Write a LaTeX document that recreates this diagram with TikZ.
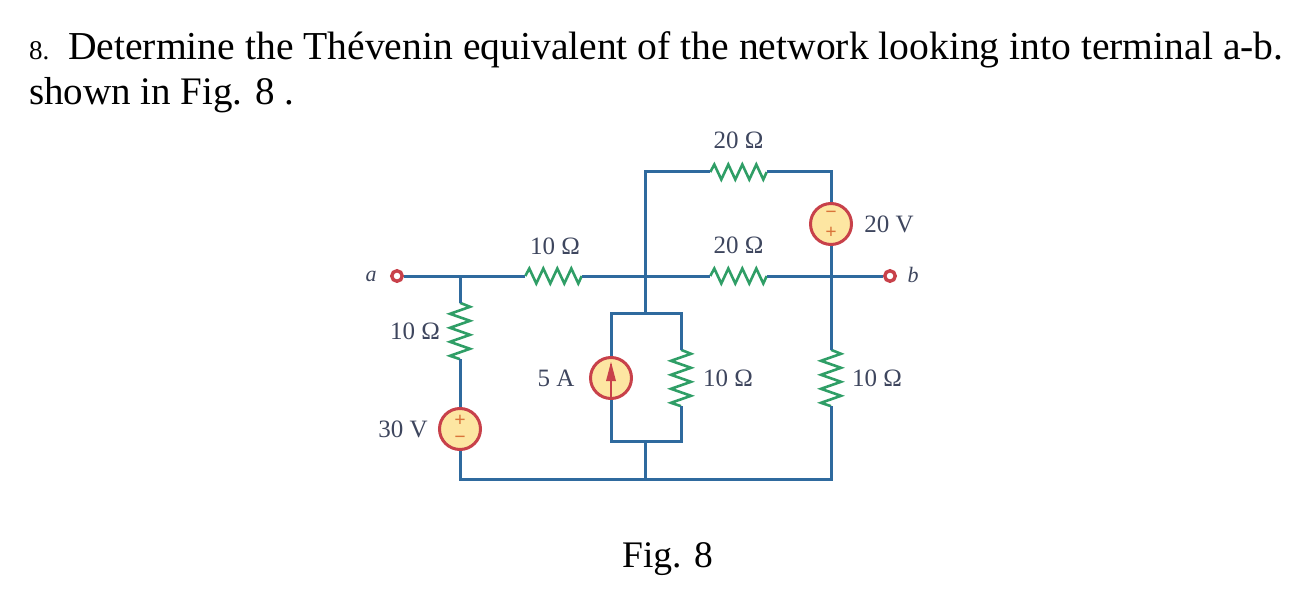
\documentclass[tikz,border=0pt]{standalone}
\usepackage{fontspec}
\usetikzlibrary{calc}
\setmainfont{Liberation Serif}
\definecolor{wirec}{HTML}{2F6A9E}
\definecolor{resc}{HTML}{2F9E66}
\definecolor{srcfill}{HTML}{FDE6A2}
\definecolor{srcring}{HTML}{C8414A}
\definecolor{labc}{HTML}{3E465E}
\definecolor{markc}{HTML}{D9743A}
\tikzset{
  wire/.style={draw=wirec,line width=3pt,line join=miter},
  zig/.style={draw=resc,line width=2.6pt,line join=miter},
  resbox/.style={inner sep=0pt,minimum width=56pt,minimum height=16pt},
  resboxv/.style={inner sep=0pt,minimum width=16pt,minimum height=56pt},
  source/.style={circle,draw=srcring,fill=srcfill,line width=3pt,minimum size=41pt,inner sep=0pt},
  terminal/.style={circle,draw=srcring,fill=white,line width=3.4pt,minimum size=10.5pt,inner sep=0pt},
  lab/.style={text=labc,inner sep=0pt,font=\fontsize{25}{27}\selectfont},
  titletext/.style={text=black,inner sep=0pt,anchor=base west},
  signmark/.style={text=markc,inner sep=0pt,anchor=base,font=\fontsize{20}{20}\selectfont\bfseries}
}
\newcommand{\HRes}[2]{%
  \node[resbox] (#1) at (#2) {};
  \draw[zig] (#1.west) -- ++(4,-7.5) -- ++(7,15) -- ++(7,-15) -- ++(7,15) -- ++(7,-15) -- ++(7,15) -- ++(7,-15) -- ++(7,15) -- (#1.east);
}
\newcommand{\VRes}[2]{%
  \node[resboxv] (#1) at (#2) {};
  \draw[zig] (#1.north) -- ++(10,4) -- ++(-20,7) -- ++(20,7) -- ++(-20,7) -- ++(20,7) -- ++(-20,7) -- ++(20,7) -- ++(-20,7) -- (#1.south);
}
\begin{document}
\begin{tikzpicture}[x=1pt,y=-1pt]
\useasboundingbox (0,0) rectangle (1304,591);
% title
\node[titletext,font=\fontsize{27}{27}\selectfont] (num) at (29,60) {8.};
\node[titletext,font=\fontsize{39.6}{40}\selectfont] (t1) at (68,60) {Determine the Thévenin equivalent of the network looking into terminal a-b.};
\node[titletext,font=\fontsize{39}{40}\selectfont] (t2) at (29,105) {shown in Fig. 8 .};
\node[titletext,font=\fontsize{37.5}{40}\selectfont,anchor=base] (figl) at (667.5,567) {Fig. 8};
% corners and junctions
\coordinate (ja) at (460,276);
\coordinate (jm) at (645,276);
\coordinate (jb) at (831,276);
\coordinate (tl) at (645,172);
\coordinate (tr) at (831,172);
\coordinate (bl) at (460,479);
\coordinate (bm) at (645,479);
\coordinate (br) at (831,479);
\coordinate (ul) at (611,313);
\coordinate (um) at (645,313);
\coordinate (ur) at (681,313);
\coordinate (ll) at (611,441);
\coordinate (lm) at (645,441);
\coordinate (lr) at (681,441);
% components
\node[terminal] (ta) at (397,276) {};
\node[terminal] (tb) at (890,276) {};
\HRes{r1}{553.5,276}
\HRes{r2}{738.5,276}
\HRes{r3}{738.5,172}
\VRes{r4}{460,331}
\VRes{r5}{681,378}
\VRes{r6}{831,378}
\node[source] (v30) at (460,429) {};
\node[source] (v20) at (831,224) {};
\node[source] (i5) at (611,378) {};
% wires
\draw[wire] (ta) -- (ja) -- (r1);
\draw[wire] (r1) -- (jm) -- (r2);
\draw[wire] (r2) -- (jb) -- (tb);
\draw[wire] (r3) -- (tl) -- (jm);
\draw[wire] (r3) -- (tr) -- (v20);
\draw[wire] (v20) -- (jb) -- (r6);
\draw[wire] (ja) -- (r4);
\draw[wire] (r4) -- (v30);
\draw[wire] (v30) -- (bl) -- (br) -- (r6);
\draw[wire] (jm) -- (um);
\draw[wire] (i5) -- (ul) -- (ur) -- (r5);
\draw[wire] (i5) -- (ll) -- (lr) -- (r5);
\draw[wire] (lm) -- (bm);
% source marks
\node[signmark] (p30) at (460,426) {+};
\node[signmark] (m30) at (460,443.5) {−};
\node[signmark] (m20) at (831,218.5) {−};
\node[signmark] (p20) at (831,238) {+};
\coordinate (ia) at (i5.south);
\coordinate (ib) at (i5.north);
\draw[draw=srcring,line width=2pt] (ia) -- ($(ib)+(0,8)$);
\fill[srcring] ($(ib)+(0,6)$) -- ++(5,19) -- ++(-10,0) -- cycle;
% labels
\node[lab] (l1) at (555,246) {10 Ω};
\node[lab] (l2) at (738.5,245) {20 Ω};
\node[lab] (l3) at (738.5,140) {20 Ω};
\node[lab] (l4) at (415,331) {10 Ω};
\node[lab] (l5) at (728,378) {10 Ω};
\node[lab] (l6) at (877,378) {10 Ω};
\node[lab] (l7) at (556,378) {5 A};
\node[lab] (l8) at (403,429) {30 V};
\node[lab] (l9) at (889,224) {20 V};
\node[lab,font=\fontsize{22}{24}\selectfont\itshape] (la) at (371,276) {a};
\node[lab,font=\fontsize{22}{24}\selectfont\itshape] (lb) at (913,275) {b};
\end{tikzpicture}
\end{document}
